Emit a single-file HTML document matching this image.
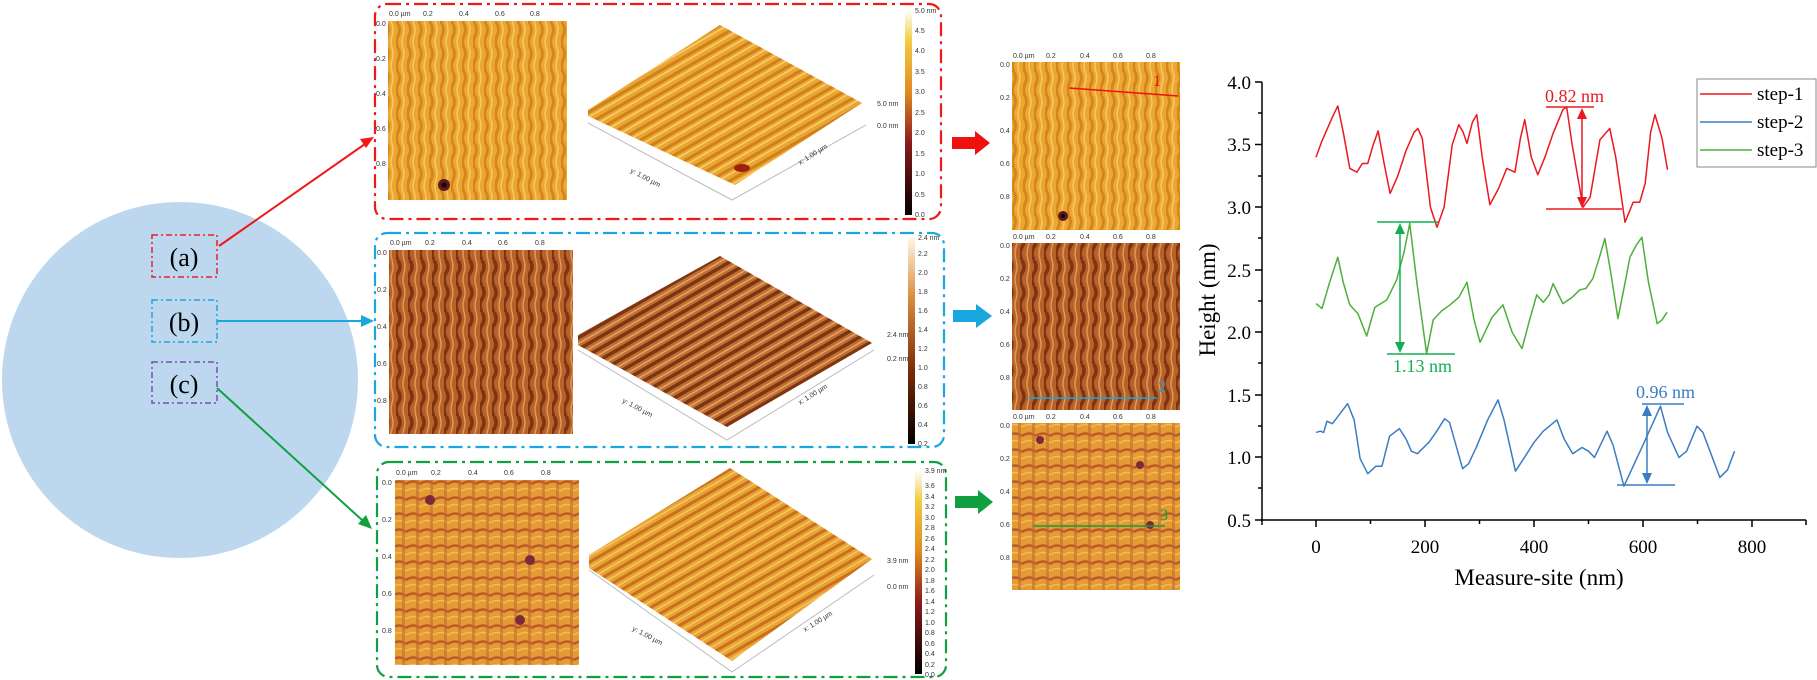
<!DOCTYPE html>
<html><head><meta charset="utf-8"><style>
html,body{margin:0;padding:0;background:#fff;}
svg{display:block;}
.s{font-family:"Liberation Sans",sans-serif;font-size:7px;fill:#333;}
.t{font-family:"Liberation Serif",serif;}
</style></head><body>
<svg width="1817" height="680" viewBox="0 0 1817 680" xmlns="http://www.w3.org/2000/svg">
<defs>
 <pattern id="pr" width="11" height="24" patternUnits="userSpaceOnUse">
  <rect width="11" height="24" fill="#eca632"/>
  <path d="M2 0 Q5 6 2 12 Q-1 18 2 24" stroke="#d4861a" stroke-width="3" fill="none"/>
  <path d="M7 0 Q9 6 7 12 Q5 18 7 24" stroke="#f7c964" stroke-width="1.5" fill="none"/>
 </pattern>
 <pattern id="pb" width="12" height="26" patternUnits="userSpaceOnUse">
  <rect width="12" height="26" fill="#b8612a"/>
  <path d="M2 0 Q6 7 2 13 Q-2 19 2 26" stroke="#7e3410" stroke-width="3.5" fill="none"/>
  <path d="M8 0 Q10 7 8 13 Q6 19 8 26" stroke="#dc9a55" stroke-width="1.5" fill="none"/>
 </pattern>
 <pattern id="pg" width="14" height="16" patternUnits="userSpaceOnUse">
  <rect width="14" height="16" fill="#e59a34"/>
  <path d="M0 4 Q7 -1 14 4" stroke="#b85a2e" stroke-width="2.5" fill="none"/>
  <path d="M0 11 Q7 6 14 11" stroke="#f2bd55" stroke-width="1.5" fill="none"/>
  <rect x="10" width="3" height="16" fill="#c46a30" opacity="0.6"/>
 </pattern>
 <pattern id="p3r" width="10" height="10" patternUnits="userSpaceOnUse" patternTransform="rotate(-30)">
  <rect width="10" height="10" fill="#eba531"/>
  <rect width="10" height="3" fill="#cf8018"/>
  <rect y="5" width="10" height="1.5" fill="#f8d070"/>
 </pattern>
 <pattern id="p3b" width="10" height="10" patternUnits="userSpaceOnUse" patternTransform="rotate(-30)">
  <rect width="10" height="10" fill="#c06e32"/>
  <rect width="10" height="3.5" fill="#7c3512"/>
  <rect y="6" width="10" height="1.5" fill="#e2a565"/>
 </pattern>
 <pattern id="p3g" width="10" height="10" patternUnits="userSpaceOnUse" patternTransform="rotate(-30)">
  <rect width="10" height="10" fill="#e9a234"/>
  <rect width="10" height="3" fill="#c8701e"/>
  <rect y="5.5" width="10" height="1.5" fill="#f5c860"/>
 </pattern>
 <linearGradient id="cr" x1="0" y1="1" x2="0" y2="0">
  <stop offset="0" stop-color="#000"/><stop offset="0.35" stop-color="#8a1a1a"/><stop offset="0.6" stop-color="#e08a20"/><stop offset="0.85" stop-color="#f2cc40"/><stop offset="1" stop-color="#fff"/>
 </linearGradient>
 <linearGradient id="cb" x1="0" y1="1" x2="0" y2="0">
  <stop offset="0" stop-color="#000"/><stop offset="0.35" stop-color="#7a2a0a"/><stop offset="0.7" stop-color="#d98a3a"/><stop offset="1" stop-color="#fff8e8"/>
 </linearGradient>
</defs>

<!-- wafer circle -->
<clipPath id="cc"><rect x="0" y="198" width="400" height="420"/></clipPath>
<circle cx="180" cy="380" r="178" fill="#bdd7ee" clip-path="url(#cc)"/>

<!-- label boxes -->
<g fill="none" stroke-width="1.5" stroke-dasharray="6 3 2 3">
 <rect x="152" y="235" width="65" height="42" stroke="#e8202a"/>
 <rect x="152" y="300" width="65" height="42" stroke="#1aa7e0"/>
 <rect x="152" y="362" width="65" height="41" stroke="#7a4fb0"/>
</g>
<g class="t" font-size="26" text-anchor="middle" fill="#000">
 <text x="184" y="266">(a)</text>
 <text x="184" y="331">(b)</text>
 <text x="184" y="393">(c)</text>
</g>
<!-- connector arrows -->
<line x1="219" y1="246" x2="365" y2="144" stroke="#f01818" stroke-width="2"/>
<polygon points="374,137 360,139 366,148" fill="#f01818"/>
<line x1="217" y1="321" x2="362" y2="321" stroke="#1aa7e0" stroke-width="2"/>
<polygon points="374,321 361,315 361,327" fill="#1aa7e0"/>
<line x1="217" y1="388" x2="362" y2="520" stroke="#10a040" stroke-width="2"/>
<polygon points="372,529 358,524 366,515" fill="#10a040"/>

<!-- panel boxes -->
<g fill="none" stroke-width="2.2" stroke-dasharray="14 5 3 5">
 <rect x="375" y="4" width="566" height="215" rx="12" stroke="#f01818"/>
 <rect x="375" y="233" width="569" height="214" rx="12" stroke="#1aa7e0"/>
 <rect x="377" y="462" width="569" height="215" rx="12" stroke="#10a040"/>
</g>

<!-- 2D images -->
<rect x="388" y="21" width="179" height="179" fill="url(#pr)"/>
<circle cx="444" cy="185" r="6" fill="#5a1a20"/><circle cx="444" cy="185" r="2.5" fill="#100"/>
<rect x="389" y="250" width="184" height="184" fill="url(#pb)"/>
<rect x="395" y="480" width="184" height="185" fill="url(#pg)"/>
<circle cx="430" cy="500" r="5" fill="#7a2a3a"/><circle cx="530" cy="560" r="5" fill="#7a2a3a"/><circle cx="520" cy="620" r="5" fill="#7a2a3a"/>
<g class="s">
 <text x="389" y="16">0.0 µm</text><text x="423" y="16">0.2</text><text x="459" y="16">0.4</text><text x="495" y="16">0.6</text><text x="530" y="16">0.8</text>
 <text x="376" y="26">0.0</text><text x="376" y="61">0.2</text><text x="376" y="96">0.4</text><text x="376" y="131">0.6</text><text x="376" y="166">0.8</text>
 <text x="390" y="245">0.0 µm</text><text x="425" y="245">0.2</text><text x="462" y="245">0.4</text><text x="498" y="245">0.6</text><text x="535" y="245">0.8</text>
 <text x="377" y="255">0.0</text><text x="377" y="292">0.2</text><text x="377" y="329">0.4</text><text x="377" y="366">0.6</text><text x="377" y="403">0.8</text>
 <text x="396" y="475">0.0 µm</text><text x="431" y="475">0.2</text><text x="468" y="475">0.4</text><text x="504" y="475">0.6</text><text x="541" y="475">0.8</text>
 <text x="382" y="485">0.0</text><text x="382" y="522">0.2</text><text x="382" y="559">0.4</text><text x="382" y="596">0.6</text><text x="382" y="633">0.8</text>
</g>

<!-- 3D surfaces -->
<g stroke="#bbb" fill="none" stroke-width="1">
 <polyline points="588,123 732,200 866,125"/>
 <polyline points="578,350 727,440 874,350"/>
 <polyline points="589,570 732,672 874,575"/>
</g>
<polygon points="588,110 720,25 862,103 735,185 588,116" fill="url(#p3r)"/>
<ellipse cx="742" cy="168" rx="8" ry="4" fill="#a02010"/>
<polygon points="578,335 720,256 872,343 727,427 578,345" fill="url(#p3b)"/>
<polygon points="589,555 730,468 872,559 732,661 589,568" fill="url(#p3g)"/>
<g class="s">
 <text x="630" y="172" transform="rotate(28 630 172)">y: 1.00 µm</text>
 <text x="800" y="165" transform="rotate(-32 800 165)">x: 1.00 µm</text>
 <text x="877" y="106">5.0 nm</text><text x="877" y="128">0.0 nm</text>
 <text x="622" y="402" transform="rotate(28 622 402)">y: 1.00 µm</text>
 <text x="800" y="405" transform="rotate(-32 800 405)">x: 1.00 µm</text>
 <text x="887" y="337">2.4 nm</text><text x="887" y="361">0.2 nm</text>
 <text x="632" y="630" transform="rotate(28 632 630)">y: 1.00 µm</text>
 <text x="805" y="632" transform="rotate(-32 805 632)">x: 1.00 µm</text>
 <text x="887" y="563">3.9 nm</text><text x="887" y="589">0.0 nm</text>
</g>

<!-- colorbars -->
<rect x="905" y="10" width="7" height="205" fill="url(#cr)"/>
<rect x="908" y="237" width="7" height="207" fill="url(#cb)"/>
<rect x="915" y="470" width="7" height="204" fill="url(#cr)"/>
<g class="s" font-size="6.5">
 <text x="915" y="13">5.0 nm</text><text x="915" y="33">4.5</text><text x="915" y="53">4.0</text><text x="915" y="74">3.5</text><text x="915" y="94">3.0</text><text x="915" y="115">2.5</text><text x="915" y="135">2.0</text><text x="915" y="156">1.5</text><text x="915" y="176">1.0</text><text x="915" y="197">0.5</text><text x="915" y="217">0.0</text>
 <text x="918" y="240">2.4 nm</text><text x="918" y="256">2.2</text><text x="918" y="275">2.0</text><text x="918" y="294">1.8</text><text x="918" y="313">1.6</text><text x="918" y="332">1.4</text><text x="918" y="351">1.2</text><text x="918" y="370">1.0</text><text x="918" y="389">0.8</text><text x="918" y="408">0.6</text><text x="918" y="427">0.4</text><text x="918" y="446">0.2</text>
 <text x="925" y="473">3.9 nm</text><text x="925" y="488">3.6</text><text x="925" y="499">3.4</text><text x="925" y="509">3.2</text><text x="925" y="520">3.0</text><text x="925" y="530">2.8</text><text x="925" y="541">2.6</text><text x="925" y="551">2.4</text><text x="925" y="562">2.2</text><text x="925" y="572">2.0</text><text x="925" y="583">1.8</text><text x="925" y="593">1.6</text><text x="925" y="604">1.4</text><text x="925" y="614">1.2</text><text x="925" y="625">1.0</text><text x="925" y="635">0.8</text><text x="925" y="646">0.6</text><text x="925" y="656">0.4</text><text x="925" y="667">0.2</text><text x="925" y="677">0.0</text>
</g>

<!-- block arrows -->
<polygon points="952,137 975,137 975,131 990,143 975,155 975,149 952,149" fill="#f01010"/>
<polygon points="953,310 976,310 976,304 992,316 976,328 976,322 953,322" fill="#1aa7e0"/>
<polygon points="955,496 978,496 978,490 993,502 978,514 978,508 955,508" fill="#10a040"/>

<!-- column 3 images -->
<rect x="1012" y="62" width="168" height="168" fill="url(#pr)"/>
<circle cx="1063" cy="216" r="5" fill="#5a1a20"/><circle cx="1063" cy="216" r="2" fill="#100"/>
<rect x="1012" y="243" width="168" height="167" fill="url(#pb)"/>
<rect x="1012" y="423" width="168" height="167" fill="url(#pg)"/>
<circle cx="1040" cy="440" r="4" fill="#7a2a3a"/><circle cx="1140" cy="465" r="4" fill="#7a2a3a"/><circle cx="1150" cy="525" r="4" fill="#7a2a3a"/>
<line x1="1069" y1="88" x2="1178" y2="96" stroke="#f01010" stroke-width="1.5"/>
<text x="1153" y="86" class="t" font-size="16" fill="#f01010">1</text>
<line x1="1027" y1="398" x2="1157" y2="398" stroke="#1aa7e0" stroke-width="1.5"/>
<text x="1158" y="392" class="t" font-size="16" fill="#1aa7e0">2</text>
<line x1="1033" y1="526" x2="1165" y2="526" stroke="#10a040" stroke-width="1.5"/>
<text x="1160" y="520" class="t" font-size="16" fill="#10a040">3</text>
<g class="s" font-size="6">
 <text x="1013" y="58">0.0 µm</text><text x="1046" y="58">0.2</text><text x="1080" y="58">0.4</text><text x="1113" y="58">0.6</text><text x="1146" y="58">0.8</text>
 <text x="1000" y="67">0.0</text><text x="1000" y="100">0.2</text><text x="1000" y="133">0.4</text><text x="1000" y="166">0.6</text><text x="1000" y="199">0.8</text>
 <text x="1013" y="239">0.0 µm</text><text x="1046" y="239">0.2</text><text x="1080" y="239">0.4</text><text x="1113" y="239">0.6</text><text x="1146" y="239">0.8</text>
 <text x="1000" y="248">0.0</text><text x="1000" y="281">0.2</text><text x="1000" y="314">0.4</text><text x="1000" y="347">0.6</text><text x="1000" y="380">0.8</text>
 <text x="1013" y="419">0.0 µm</text><text x="1046" y="419">0.2</text><text x="1080" y="419">0.4</text><text x="1113" y="419">0.6</text><text x="1146" y="419">0.8</text>
 <text x="1000" y="428">0.0</text><text x="1000" y="461">0.2</text><text x="1000" y="494">0.4</text><text x="1000" y="527">0.6</text><text x="1000" y="560">0.8</text>
</g>

<!-- chart axes -->
<g stroke="#000" stroke-width="1.5" fill="none">
 <line x1="1262" y1="82" x2="1262" y2="521"/>
 <line x1="1261" y1="520" x2="1806" y2="520"/>
 <line x1="1255" y1="82" x2="1262" y2="82"/><line x1="1255" y1="144.5" x2="1262" y2="144.5"/>
 <line x1="1255" y1="207" x2="1262" y2="207"/><line x1="1255" y1="270" x2="1262" y2="270"/>
 <line x1="1255" y1="332" x2="1262" y2="332"/><line x1="1255" y1="395" x2="1262" y2="395"/>
 <line x1="1255" y1="457" x2="1262" y2="457"/><line x1="1255" y1="520" x2="1262" y2="520"/>
 <line x1="1258" y1="113" x2="1262" y2="113"/><line x1="1258" y1="176" x2="1262" y2="176"/>
 <line x1="1258" y1="238" x2="1262" y2="238"/><line x1="1258" y1="301" x2="1262" y2="301"/>
 <line x1="1258" y1="363" x2="1262" y2="363"/><line x1="1258" y1="426" x2="1262" y2="426"/>
 <line x1="1258" y1="488" x2="1262" y2="488"/>
 <line x1="1316" y1="520" x2="1316" y2="527"/><line x1="1425" y1="520" x2="1425" y2="527"/>
 <line x1="1534" y1="520" x2="1534" y2="527"/><line x1="1643" y1="520" x2="1643" y2="527"/>
 <line x1="1752" y1="520" x2="1752" y2="527"/>
 <line x1="1262" y1="520" x2="1262" y2="525"/><line x1="1370.5" y1="520" x2="1370.5" y2="524"/>
 <line x1="1479.5" y1="520" x2="1479.5" y2="524"/><line x1="1588.5" y1="520" x2="1588.5" y2="524"/>
 <line x1="1697.5" y1="520" x2="1697.5" y2="524"/><line x1="1806" y1="520" x2="1806" y2="525"/>
</g>
<g class="t" font-size="19" fill="#000" text-anchor="end">
 <text x="1251" y="89">4.0</text><text x="1251" y="151">3.5</text><text x="1251" y="214">3.0</text>
 <text x="1251" y="277">2.5</text><text x="1251" y="339">2.0</text><text x="1251" y="402">1.5</text>
 <text x="1251" y="464">1.0</text><text x="1251" y="527">0.5</text>
</g>
<g class="t" font-size="19" fill="#000" text-anchor="middle">
 <text x="1316" y="553">0</text><text x="1425" y="553">200</text><text x="1534" y="553">400</text>
 <text x="1643" y="553">600</text><text x="1752" y="553">800</text>
 <text x="1539" y="585" font-size="23">Measure-site (nm)</text>
 <text x="0" y="0" font-size="23" transform="translate(1215 300) rotate(-90)">Height (nm)</text>
</g>

<!-- series -->
<g transform="translate(1316,582.55) scale(0.545,-125.1)" fill="none" stroke-width="1.5" stroke-linejoin="round">
 <polyline vector-effect="non-scaling-stroke" stroke="#e8191f" points="0,3.40 10,3.52 20,3.62 30,3.72 40,3.81 50,3.6 62,3.31 75,3.28 85,3.35 95,3.35 105,3.5 114,3.61 125,3.35 136,3.11 150,3.25 165,3.45 180,3.6 187,3.63 195,3.55 210,3.0 222,2.84 235,3.0 250,3.5 262,3.66 270,3.6 277,3.51 287,3.68 295,3.74 305,3.4 319,3.02 335,3.15 350,3.31 365,3.28 375,3.55 383,3.70 395,3.4 407,3.26 420,3.4 435,3.59 453,3.78 460,3.80 470,3.5 490,3.0 503,3.08 521,3.54 539,3.63 550,3.4 567,2.88 582,3.04 594,3.04 604,3.19 614,3.6 622,3.74 635,3.55 645,3.3"/>
 <polyline vector-effect="non-scaling-stroke" stroke="#4daf3a" points="0,2.23 11,2.19 25,2.4 40,2.60 50,2.4 62,2.22 77,2.15 93,1.97 108,2.20 130,2.26 148,2.42 162,2.65 172,2.87 185,2.4 203,1.83 215,2.1 230,2.17 246,2.22 262,2.28 277,2.40 290,2.1 301,1.92 323,2.12 343,2.22 360,2.0 378,1.87 392,2.1 405,2.30 417,2.24 428,2.3 435,2.39 445,2.3 453,2.23 470,2.28 484,2.34 495,2.35 508,2.43 520,2.6 530,2.75 540,2.5 554,2.11 565,2.35 576,2.60 588,2.7 598,2.76 610,2.4 626,2.07 635,2.1 644,2.16"/>
 <polyline vector-effect="non-scaling-stroke" stroke="#3a7dc4" points="0,1.2 8,1.21 14,1.2 20,1.29 30,1.27 44,1.35 58,1.43 70,1.3 81,0.99 95,0.87 110,0.93 121,0.93 135,1.17 153,1.23 165,1.15 175,1.05 186,1.03 207,1.12 220,1.2 236,1.31 245,1.28 269,0.91 280,0.95 294,1.08 315,1.3 334,1.46 345,1.3 366,0.89 381,0.99 400,1.12 417,1.21 442,1.30 455,1.15 471,1.03 488,1.08 500,1.05 511,1.0 534,1.21 545,1.1 565,0.77 600,1.1 632,1.41 645,1.2 666,1.0 680,1.05 699,1.25 710,1.2 741,0.84 755,0.9 768,1.05"/>
</g>

<!-- annotations -->
<g stroke="#e8191f" stroke-width="1.5" fill="#e8191f">
 <line x1="1546" y1="107" x2="1594" y2="107"/><line x1="1546" y1="209" x2="1622" y2="209"/>
 <line x1="1582" y1="116" x2="1582" y2="200"/>
 <polygon points="1582,108 1577,119 1587,119" stroke="none"/><polygon points="1582,208 1577,197 1587,197" stroke="none"/>
</g>
<text x="1545" y="102" class="t" font-size="18" fill="#e8191f">0.82 nm</text>
<g stroke="#10b050" stroke-width="1.5" fill="#10b050">
 <line x1="1377" y1="222" x2="1438" y2="222"/><line x1="1387" y1="354" x2="1455" y2="354"/>
 <line x1="1400" y1="232" x2="1400" y2="344"/>
 <polygon points="1400,223 1395,234 1405,234" stroke="none"/><polygon points="1400,353 1395,342 1405,342" stroke="none"/>
</g>
<text x="1393" y="372" class="t" font-size="18" fill="#10b050">1.13 nm</text>
<g stroke="#3a7dc4" stroke-width="1.5" fill="#3a7dc4">
 <line x1="1642" y1="404" x2="1684" y2="404"/><line x1="1617" y1="485" x2="1675" y2="485"/>
 <line x1="1647" y1="414" x2="1647" y2="476"/>
 <polygon points="1647,405 1642,416 1652,416" stroke="none"/><polygon points="1647,484 1642,473 1652,473" stroke="none"/>
</g>
<text x="1636" y="398" class="t" font-size="18" fill="#3a7dc4">0.96 nm</text>

<!-- legend -->
<rect x="1697" y="79" width="119" height="88" fill="#fff" stroke="#888" stroke-width="1"/>
<line x1="1700" y1="94" x2="1752" y2="94" stroke="#e8191f" stroke-width="1.5"/>
<line x1="1700" y1="122" x2="1752" y2="122" stroke="#3a7dc4" stroke-width="1.5"/>
<line x1="1700" y1="150" x2="1752" y2="150" stroke="#4daf3a" stroke-width="1.5"/>
<g class="t" font-size="19" fill="#000">
 <text x="1757" y="100">step-1</text><text x="1757" y="128">step-2</text><text x="1757" y="156">step-3</text>
</g>
</svg>
</body></html>
